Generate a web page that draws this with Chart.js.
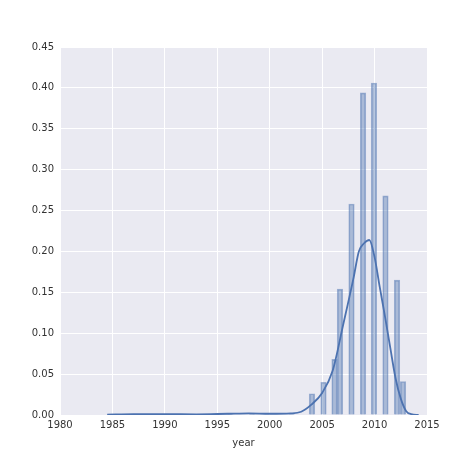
<!DOCTYPE html>
<html>
<head>
<script src="https://cdn.jsdelivr.net/npm/chart.js@4/dist/chart.umd.min.js"></script>
<style>
html, body { margin: 0; padding: 0; background: #fff; }
#wrap { width: 474px; height: 474px; }
</style>
</head>
<body>
<div id="wrap"><canvas id="c"></canvas></div>
<script>
// histogram bins (center year, density)
var binYears = [1984.8, 1990.2, 1996.2, 1998.3, 2002.1, 2004.03, 2005.13, 2006.18, 2006.7, 2007.8, 2008.9, 2009.94, 2011.04, 2012.14, 2012.71];
var binDensity = [0.001, 0.001, 0.001, 0.002, 0.002, 0.026, 0.040, 0.068, 0.154, 0.258, 0.394, 0.406, 0.268, 0.165, 0.041];
// kde curve
var kdeYears = [1984.5, 1987, 1990, 1993, 1996, 1998, 2000, 2002, 2003, 2004, 2005, 2006, 2007, 2008, 2008.5, 2009, 2009.5, 2010, 2010.5, 2011, 2011.5, 2012, 2012.5, 2013, 2013.5, 2014.2];
var kdeDensity = [0.0005, 0.001, 0.001, 0.0008, 0.0015, 0.002, 0.0015, 0.002, 0.004, 0.013, 0.027, 0.054, 0.11, 0.168, 0.2, 0.21, 0.214, 0.193, 0.156, 0.12, 0.082, 0.045, 0.02, 0.005, 0.001, 0];
var xTicks = [1980, 1985, 1990, 1995, 2000, 2005, 2010, 2015];

var bars = binYears.map(function (x, i) { return { x: x, y: binDensity[i] }; });
var kde = kdeYears.map(function (x, i) { return { x: x, y: kdeDensity[i] }; });

var bgPlugin = {
    id: 'bg',
    beforeDraw: function (chart) {
        var a = chart.chartArea, ctx = chart.ctx;
        ctx.save();
        ctx.fillStyle = '#EAEAF2';
        ctx.fillRect(a.left, a.top, a.right - a.left, a.bottom - a.top);
        ctx.restore();
    }
};

var tickFont = { family: 'DejaVu Sans', size: 10 };

new Chart(document.getElementById('c'), {
    type: 'bar',
    data: {
        datasets: [{
            type: 'line',
            data: kde,
            borderColor: '#4C72B0',
            borderWidth: 1.8,
            pointRadius: 0,
            cubicInterpolationMode: 'monotone'
        }, {
            data: bars,
            backgroundColor: 'rgba(76,114,176,0.4)',
            borderColor: 'rgba(76,114,176,0.5)',
            borderWidth: 1,
            barThickness: 5.5
        }]
    },
    options: {
        responsive: true,
        maintainAspectRatio: false,
        animation: false,
        layout: { padding: { top: 47, right: 47, bottom: 23 } },
        plugins: { legend: { display: false }, tooltip: { enabled: false } },
        scales: {
            x: {
                type: 'linear', min: 1980, max: 2015, offset: false,
                afterBuildTicks: function (s) { s.ticks = xTicks.map(function (v) { return { value: v }; }); },
                grid: { color: '#ffffff', lineWidth: 1, drawTicks: false, offset: false },
                border: { display: false },
                ticks: { color: '#333', font: tickFont, padding: 4, maxRotation: 0, callback: function (v) { return v; } },
                title: { display: true, text: 'year', color: '#333', font: { family: 'DejaVu Sans', size: 10 }, padding: 2 }
            },
            y: {
                min: 0, max: 0.45,
                afterFit: function (s) { s.width = 60; },
                grid: { color: '#ffffff', lineWidth: 1, drawTicks: false },
                border: { display: false },
                ticks: { stepSize: 0.05, color: '#333', font: tickFont, padding: 6, callback: function (v) { return v.toFixed(2); } }
            }
        }
    },
    plugins: [bgPlugin]
});
</script>
</body>
</html>
